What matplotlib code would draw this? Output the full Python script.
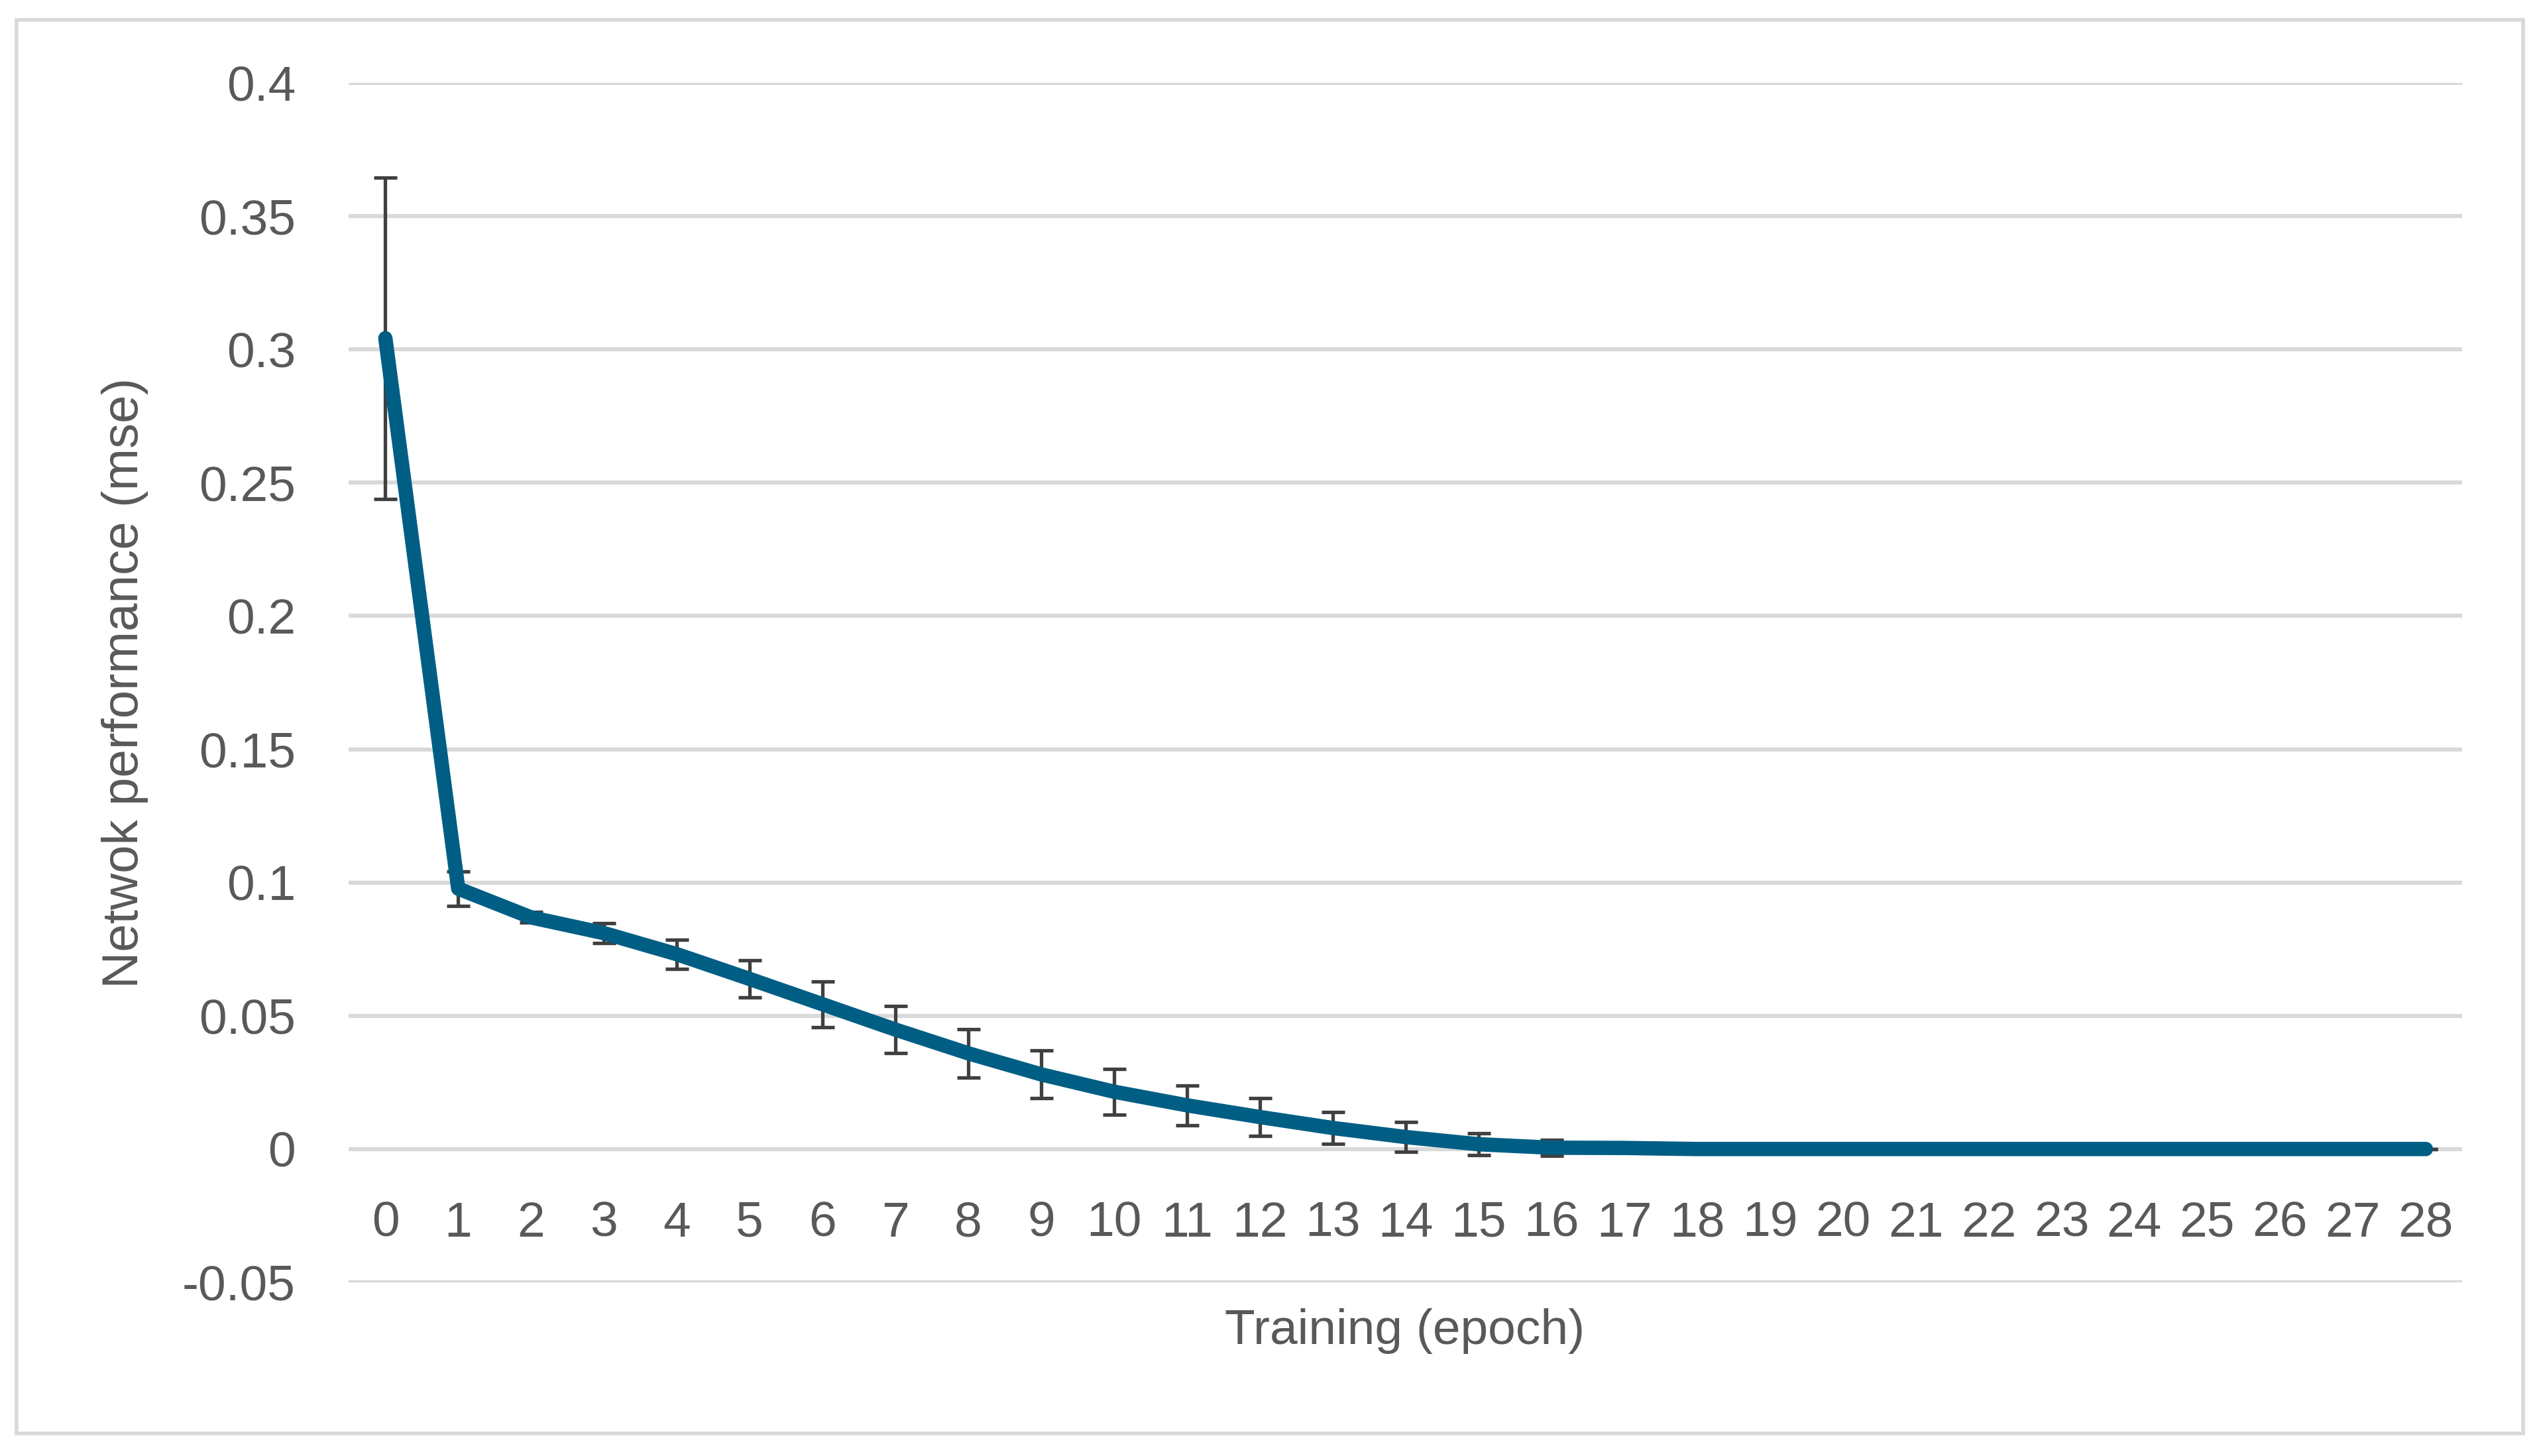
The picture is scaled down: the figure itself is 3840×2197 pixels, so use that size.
import matplotlib
matplotlib.use("Agg")
import matplotlib.pyplot as plt
from matplotlib.patches import Rectangle

# values
epochs = list(range(29))
mse = [0.3042, 0.0977, 0.0869, 0.0810, 0.0731, 0.0638, 0.0543, 0.0448,
       0.0359, 0.0280, 0.0215, 0.0164, 0.0120, 0.0079, 0.0045, 0.0018,
       0.0005, 0.0004, 0.0, 0.0, 0.0, 0.0, 0.0, 0.0, 0.0, 0.0, 0.0, 0.0, 0.0]
mse_err = [0.0603, 0.0064, 0.0020, 0.0038, 0.0055, 0.0069, 0.0085, 0.0089,
           0.0091, 0.0090, 0.0085, 0.0075, 0.0071, 0.0060, 0.0056, 0.0042,
           0.0030, 0.0005, 0.0, 0.0, 0.0, 0.0, 0.0, 0.0, 0.0, 0.0, 0.0, 0.0, 0.0]
y_ticks = [-0.05, 0, 0.05, 0.1, 0.15, 0.2, 0.25, 0.3, 0.35, 0.4]
y_tick_labels = ["-0.05", "0", "0.05", "0.1", "0.15", "0.2", "0.25", "0.3", "0.35", "0.4"]

text_grey = "#595959"
grid_grey = "#D9D9D9"
line_blue = "#005E85"

plt.rcParams['font.family'] = ['Liberation Sans', 'DejaVu Sans']

fig = plt.figure(figsize=(19.2, 10.985), dpi=200)
ax = fig.add_axes([0.1371, 0.1193, 0.8304, 0.8238])

# outer chart border
fig.patches.append(Rectangle((0.0065, 0.0155), 0.985, 0.971, transform=fig.transFigure,
                             fill=False, edgecolor=grid_grey, linewidth=2.0))

ax.errorbar(epochs, mse, yerr=mse_err, fmt='none', ecolor='#404040',
            elinewidth=1.9, capsize=6.3, capthick=1.9, zorder=2)
ax.plot(epochs, mse, color=line_blue, linewidth=7.8, solid_joinstyle='round',
        solid_capstyle='round', zorder=3)

ax.set_xlim(-0.5, 28.5)
ax.set_ylim(-0.05, 0.4)
ax.set_yticks(y_ticks)
ax.set_yticklabels(y_tick_labels)
ax.set_xticks(epochs)
ax.set_xticklabels([str(e) for e in epochs])

ax.grid(axis='y', color=grid_grey, linewidth=2.2, zorder=0)
ax.set_axisbelow(True)
for s in ax.spines.values():
    s.set_visible(False)
ax.spines['bottom'].set_position(('data', 0))

ax.tick_params(axis='y', length=0, pad=29, labelsize=27, labelcolor=text_grey)
ax.tick_params(axis='x', length=0, pad=28, labelsize=27, labelcolor=text_grey)

fig.text(0.552, 0.0858, "Training (epoch)", ha='center', va='center',
         fontsize=27, color=text_grey)
fig.text(0.0491, 0.531, "Netwok performance (mse)", ha='center', va='center',
         rotation=90, fontsize=27.5, color=text_grey)

fig.savefig("out.png", dpi=200, facecolor='white')
